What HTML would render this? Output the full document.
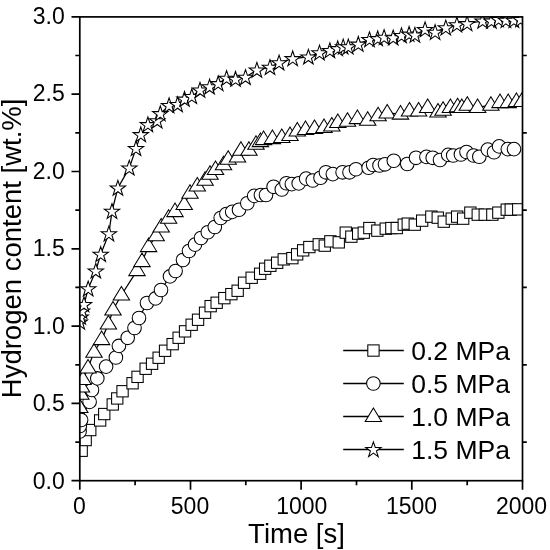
<!DOCTYPE html>
<html lang="en"><head><meta charset="utf-8"><title>Hydrogen content vs time</title>
<style>
html,body{margin:0;padding:0;background:#fff}
body{width:550px;height:550px;overflow:hidden}
svg{display:block}
text{font-family:"Liberation Sans",Arial,sans-serif;fill:#000}
.tk{font-size:23px}
.tt{font-size:27.5px}
text.lg{font-size:26.5px}
.m{fill:#fff;stroke:#000;stroke-width:1.05;stroke-linejoin:miter}
.ln{fill:none;stroke:#000;stroke-width:1.25}
.ll{fill:none;stroke:#000;stroke-width:1.5}
.ax{fill:none;stroke:#000;stroke-width:1.7}
</style></head><body>
<svg width="550" height="550" viewBox="0 0 550 550">
<rect width="550" height="550" fill="#fff"/>
<defs><clipPath id="cp"><rect x="79.8" y="16.9" width="442.7" height="463.8"/></clipPath></defs>

<g clip-path="url(#cp)">
<g class="ln"><polyline points="81.7,450.7 85.7,440 90.3,430 100.2,420.4 104.3,414 112.8,404.4 117.3,398.4 122.6,391.2 132.6,383.2 137.6,376.8 145.7,368.7 152.1,363.7 158.7,357.7 165.1,350.7 172.7,344.1 178.7,337.7 185.1,331.3 191.7,324.7 198.1,319.7 205.1,312.7 210.7,306.1 216.7,302.7 224.3,298.1 231.3,294.1 237.7,290.7 244.1,282.7 251.7,277.7 260.1,273.7 265.1,268.7 270.3,265.7 277.1,262.7 283.7,259.3 292.3,258.1 297.1,254.3 303.1,250.3 309.3,247.1 318.7,244.3 324.7,245.7 330.3,241.3 338.7,242.3 345.7,232.7 351.3,236.7 358.1,233.7 363.7,232.7 369.3,228.1 377.3,230.7 385.7,228.7 391.3,228.1 396.7,228.1 403.7,224.7 407.7,223.7 414.7,224.7 422.1,220.7 431.3,216.7 437.7,217.7 443.7,221.7 451.7,218.7 457.1,216.7 463.1,218.7 470.3,212.7 477.7,214.7 484.7,214.7 492.3,214.7 498.3,212.7 506.7,209.7 510.7,209.7 518.3,209.3"/></g>
<g class="m"><rect x="76" y="445.1" width="11.3" height="11.3"/><rect x="80" y="434.4" width="11.3" height="11.3"/><rect x="84.6" y="424.4" width="11.3" height="11.3"/><rect x="94.5" y="414.8" width="11.3" height="11.3"/><rect x="98.6" y="408.4" width="11.3" height="11.3"/><rect x="107.1" y="398.8" width="11.3" height="11.3"/><rect x="111.6" y="392.8" width="11.3" height="11.3"/><rect x="116.9" y="385.6" width="11.3" height="11.3"/><rect x="126.9" y="377.6" width="11.3" height="11.3"/><rect x="131.9" y="371.2" width="11.3" height="11.3"/><rect x="140" y="363.1" width="11.3" height="11.3"/><rect x="146.4" y="358.1" width="11.3" height="11.3"/><rect x="153" y="352.1" width="11.3" height="11.3"/><rect x="159.4" y="345.1" width="11.3" height="11.3"/><rect x="167" y="338.5" width="11.3" height="11.3"/><rect x="173" y="332.1" width="11.3" height="11.3"/><rect x="179.4" y="325.7" width="11.3" height="11.3"/><rect x="186" y="319.1" width="11.3" height="11.3"/><rect x="192.4" y="314.1" width="11.3" height="11.3"/><rect x="199.4" y="307.1" width="11.3" height="11.3"/><rect x="205" y="300.5" width="11.3" height="11.3"/><rect x="211" y="297.1" width="11.3" height="11.3"/><rect x="218.7" y="292.5" width="11.3" height="11.3"/><rect x="225.7" y="288.5" width="11.3" height="11.3"/><rect x="232" y="285.1" width="11.3" height="11.3"/><rect x="238.4" y="277.1" width="11.3" height="11.3"/><rect x="246" y="272.1" width="11.3" height="11.3"/><rect x="254.5" y="268.1" width="11.3" height="11.3"/><rect x="259.5" y="263.1" width="11.3" height="11.3"/><rect x="264.7" y="260.1" width="11.3" height="11.3"/><rect x="271.5" y="257.1" width="11.3" height="11.3"/><rect x="278.1" y="253.7" width="11.3" height="11.3"/><rect x="286.7" y="252.5" width="11.3" height="11.3"/><rect x="291.5" y="248.7" width="11.3" height="11.3"/><rect x="297.5" y="244.7" width="11.3" height="11.3"/><rect x="303.7" y="241.4" width="11.3" height="11.3"/><rect x="313.1" y="238.7" width="11.3" height="11.3"/><rect x="319.1" y="240" width="11.3" height="11.3"/><rect x="324.7" y="235.7" width="11.3" height="11.3"/><rect x="333.1" y="236.7" width="11.3" height="11.3"/><rect x="340.1" y="227" width="11.3" height="11.3"/><rect x="345.7" y="231" width="11.3" height="11.3"/><rect x="352.5" y="228" width="11.3" height="11.3"/><rect x="358.1" y="227" width="11.3" height="11.3"/><rect x="363.7" y="222.4" width="11.3" height="11.3"/><rect x="371.7" y="225" width="11.3" height="11.3"/><rect x="380.1" y="223" width="11.3" height="11.3"/><rect x="385.7" y="222.4" width="11.3" height="11.3"/><rect x="391.1" y="222.4" width="11.3" height="11.3"/><rect x="398.1" y="219" width="11.3" height="11.3"/><rect x="402.1" y="218" width="11.3" height="11.3"/><rect x="409.1" y="219" width="11.3" height="11.3"/><rect x="416.5" y="215" width="11.3" height="11.3"/><rect x="425.7" y="211" width="11.3" height="11.3"/><rect x="432.1" y="212" width="11.3" height="11.3"/><rect x="438.1" y="216" width="11.3" height="11.3"/><rect x="446.1" y="213" width="11.3" height="11.3"/><rect x="451.5" y="211" width="11.3" height="11.3"/><rect x="457.5" y="213" width="11.3" height="11.3"/><rect x="464.7" y="207" width="11.3" height="11.3"/><rect x="472.1" y="209" width="11.3" height="11.3"/><rect x="479.1" y="209" width="11.3" height="11.3"/><rect x="486.7" y="209" width="11.3" height="11.3"/><rect x="492.7" y="207" width="11.3" height="11.3"/><rect x="501.1" y="204" width="11.3" height="11.3"/><rect x="505.1" y="204" width="11.3" height="11.3"/><rect x="512.6" y="203.7" width="11.3" height="11.3"/></g>
<g class="ln"><polyline points="79.6,431.5 79.8,426 81.1,420 89.6,401.9 92,390 97.3,378.4 106.1,366.6 115.9,357.5 118.9,345.9 127.7,337.8 134.5,328 139,318 147,303 155.6,298.4 161,290 170,276.4 175.6,271 183,260 189,251 195,244.6 201,238 207.8,232.2 214.8,227 220.7,218 226.4,214 232.2,211.9 239,209.7 247.3,203.2 254.2,195.9 260.9,195 266,195 273.6,186.8 281.8,189.5 286.4,183.2 291.8,184.1 298.7,183.4 306.1,178.6 312.8,180.5 320.5,177.7 325.9,172.3 332.8,174.1 342.6,172.3 349.5,172.3 355.9,169.2 368.6,167.7 373.2,165 379.5,165.5 385,164.3 393.8,160.7 407.3,164 416,157.8 426.4,156.9 432.7,157.8 440,160 448.2,154.9 453.2,155.5 460.9,154.5 466.5,152 473.6,155.5 479.3,156.7 487.8,149.6 494,152.2 499.1,146.4 507.8,149.1 514,149.1"/></g>
<g class="m"><circle cx="79.6" cy="431.5" r="6.8"/><circle cx="79.8" cy="426" r="6.8"/><circle cx="81.1" cy="420" r="6.8"/><circle cx="89.6" cy="401.9" r="6.8"/><circle cx="92" cy="390" r="6.8"/><circle cx="97.3" cy="378.4" r="6.8"/><circle cx="106.1" cy="366.6" r="6.8"/><circle cx="115.9" cy="357.5" r="6.8"/><circle cx="118.9" cy="345.9" r="6.8"/><circle cx="127.7" cy="337.8" r="6.8"/><circle cx="134.5" cy="328" r="6.8"/><circle cx="139" cy="318" r="6.8"/><circle cx="147" cy="303" r="6.8"/><circle cx="155.6" cy="298.4" r="6.8"/><circle cx="161" cy="290" r="6.8"/><circle cx="170" cy="276.4" r="6.8"/><circle cx="175.6" cy="271" r="6.8"/><circle cx="183" cy="260" r="6.8"/><circle cx="189" cy="251" r="6.8"/><circle cx="195" cy="244.6" r="6.8"/><circle cx="201" cy="238" r="6.8"/><circle cx="207.8" cy="232.2" r="6.8"/><circle cx="214.8" cy="227" r="6.8"/><circle cx="220.7" cy="218" r="6.8"/><circle cx="226.4" cy="214" r="6.8"/><circle cx="232.2" cy="211.9" r="6.8"/><circle cx="239" cy="209.7" r="6.8"/><circle cx="247.3" cy="203.2" r="6.8"/><circle cx="254.2" cy="195.9" r="6.8"/><circle cx="260.9" cy="195" r="6.8"/><circle cx="266" cy="195" r="6.8"/><circle cx="273.6" cy="186.8" r="6.8"/><circle cx="281.8" cy="189.5" r="6.8"/><circle cx="286.4" cy="183.2" r="6.8"/><circle cx="291.8" cy="184.1" r="6.8"/><circle cx="298.7" cy="183.4" r="6.8"/><circle cx="306.1" cy="178.6" r="6.8"/><circle cx="312.8" cy="180.5" r="6.8"/><circle cx="320.5" cy="177.7" r="6.8"/><circle cx="325.9" cy="172.3" r="6.8"/><circle cx="332.8" cy="174.1" r="6.8"/><circle cx="342.6" cy="172.3" r="6.8"/><circle cx="349.5" cy="172.3" r="6.8"/><circle cx="355.9" cy="169.2" r="6.8"/><circle cx="368.6" cy="167.7" r="6.8"/><circle cx="373.2" cy="165" r="6.8"/><circle cx="379.5" cy="165.5" r="6.8"/><circle cx="385" cy="164.3" r="6.8"/><circle cx="393.8" cy="160.7" r="6.8"/><circle cx="407.3" cy="164" r="6.8"/><circle cx="416" cy="157.8" r="6.8"/><circle cx="426.4" cy="156.9" r="6.8"/><circle cx="432.7" cy="157.8" r="6.8"/><circle cx="440" cy="160" r="6.8"/><circle cx="448.2" cy="154.9" r="6.8"/><circle cx="453.2" cy="155.5" r="6.8"/><circle cx="460.9" cy="154.5" r="6.8"/><circle cx="466.5" cy="152" r="6.8"/><circle cx="473.6" cy="155.5" r="6.8"/><circle cx="479.3" cy="156.7" r="6.8"/><circle cx="487.8" cy="149.6" r="6.8"/><circle cx="494" cy="152.2" r="6.8"/><circle cx="499.1" cy="146.4" r="6.8"/><circle cx="507.8" cy="149.1" r="6.8"/><circle cx="514" cy="149.1" r="6.8"/></g>
<g class="ln"><polyline points="79.8,407.5 80.8,394.2 81.5,387 83,379.5 88,368 94,352.2 101.6,339.6 108.4,324 113,310 121.4,295 137,270.6 142,261.6 148.6,246.6 156.2,235.8 161.2,227 168.6,218.2 175,211.6 184.2,204.4 190,193.3 197.3,186 205.1,180.2 210,174.2 215.5,169.5 223.5,164.7 228.2,159.3 237.5,156.9 240.9,150.2 248.9,150.2 256,144.2 260.4,141.6 263.6,139.6 272.4,138.6 281.8,137.5 290,135.4 297.3,131 305.5,129.4 314.5,128.5 324,127.5 331.8,125.9 337.8,122.5 347.5,121.3 357.4,118.6 367.7,120.3 378.1,115.7 387.2,113 400.5,114.1 409.5,111 418.6,111 427.7,107.5 438,112 443.1,110.3 450.4,107.5 457.6,106.8 461.8,107.5 467.3,105.2 477.6,107.4 490.9,105.2 500,102.6 508.2,102.6 516.4,101.4 521.8,101.4"/></g>
<g class="m"><path d="M79.8 399L88 412.5H71.6Z"/><path d="M80.8 385.7L89 399.2H72.6Z"/><path d="M81.5 378.5L89.7 392H73.3Z"/><path d="M83 371L91.2 384.5H74.8Z"/><path d="M88 359.5L96.2 373H79.8Z"/><path d="M94 343.7L102.2 357.2H85.8Z"/><path d="M101.6 331.1L109.8 344.6H93.4Z"/><path d="M108.4 315.5L116.6 329H100.2Z"/><path d="M113 301.5L121.2 315H104.8Z"/><path d="M121.4 286.5L129.6 300H113.2Z"/><path d="M137 262.1L145.2 275.6H128.8Z"/><path d="M142 253.1L150.2 266.6H133.8Z"/><path d="M148.6 238.1L156.8 251.6H140.4Z"/><path d="M156.2 227.3L164.4 240.8H148Z"/><path d="M161.2 218.5L169.4 232H153Z"/><path d="M168.6 209.7L176.8 223.2H160.4Z"/><path d="M175 203.1L183.2 216.6H166.8Z"/><path d="M184.2 195.9L192.4 209.4H176Z"/><path d="M190 184.8L198.2 198.3H181.8Z"/><path d="M197.3 177.5L205.5 191H189.1Z"/><path d="M205.1 171.7L213.3 185.2H196.9Z"/><path d="M210 165.7L218.2 179.2H201.8Z"/><path d="M215.5 161L223.7 174.5H207.3Z"/><path d="M223.5 156.2L231.7 169.7H215.3Z"/><path d="M228.2 150.8L236.4 164.3H220Z"/><path d="M237.5 148.4L245.7 161.9H229.3Z"/><path d="M240.9 141.7L249.1 155.2H232.7Z"/><path d="M248.9 141.7L257.1 155.2H240.7Z"/><path d="M256 135.7L264.2 149.2H247.8Z"/><path d="M260.4 133.1L268.6 146.6H252.2Z"/><path d="M263.6 131.1L271.8 144.6H255.4Z"/><path d="M272.4 130.1L280.6 143.6H264.2Z"/><path d="M281.8 129L290 142.5H273.6Z"/><path d="M290 126.9L298.2 140.4H281.8Z"/><path d="M297.3 122.5L305.5 136H289.1Z"/><path d="M305.5 120.9L313.7 134.4H297.3Z"/><path d="M314.5 120L322.7 133.5H306.3Z"/><path d="M324 119L332.2 132.5H315.8Z"/><path d="M331.8 117.4L340 130.9H323.6Z"/><path d="M337.8 114L346 127.5H329.6Z"/><path d="M347.5 112.8L355.7 126.3H339.3Z"/><path d="M357.4 110.1L365.6 123.6H349.2Z"/><path d="M367.7 111.8L375.9 125.3H359.5Z"/><path d="M378.1 107.2L386.3 120.7H369.9Z"/><path d="M387.2 104.5L395.4 118H379Z"/><path d="M400.5 105.6L408.7 119.1H392.3Z"/><path d="M409.5 102.5L417.7 116H401.3Z"/><path d="M418.6 102.5L426.8 116H410.4Z"/><path d="M427.7 99L435.9 112.5H419.5Z"/><path d="M438 103.5L446.2 117H429.8Z"/><path d="M443.1 101.8L451.3 115.3H434.9Z"/><path d="M450.4 99L458.6 112.5H442.2Z"/><path d="M457.6 98.3L465.8 111.8H449.4Z"/><path d="M461.8 99L470 112.5H453.6Z"/><path d="M467.3 96.7L475.5 110.2H459.1Z"/><path d="M477.6 98.9L485.8 112.4H469.4Z"/><path d="M490.9 96.7L499.1 110.2H482.7Z"/><path d="M500 94.1L508.2 107.6H491.8Z"/><path d="M508.2 94.1L516.4 107.6H500Z"/><path d="M516.4 92.9L524.6 106.4H508.2Z"/><path d="M521.8 92.9L530 106.4H513.6Z"/></g>
<g class="ln"><polyline points="79.8,322 80.7,317 82,311 84,304.5 88.2,288.7 95.8,270.9 100.7,254.2 108.9,233.7 112,211.2 117.9,188 129.3,167.9 136,148.4 140.8,134.6 147.9,124.6 157.2,120.8 160.3,113.6 169.1,105.5 177.6,104.5 184.5,99.1 191.8,96.4 200,90 209.6,86.8 218.2,83.6 226.6,78.2 235.5,79.1 245.5,77.3 256.9,70 270,67.3 279.1,62.7 292.7,58.6 308.4,56.9 319.5,52.8 329.9,50.5 337.7,48.6 343.2,46.8 348.3,46.8 358.3,44.1 369.5,39.5 377.7,38.6 384.1,37.2 393.2,37.7 401.5,35.5 409.1,34.1 414.9,35 425.1,29.5 435.1,32.3 445.8,27.7 456.9,24.8 467.1,23.6 482.6,21 491.4,21 498.6,19.5 505.9,20.3 513.9,20.3 520.5,19.5"/></g>
<g class="m"><polygon points="79.8,314.4 81.7,320 87.5,320 82.8,323.5 84.6,329.1 79.8,325.6 75,329.1 76.8,323.5 72.1,320 77.9,320"/><polygon points="80.7,309.4 82.6,315 88.4,315 83.7,318.5 85.5,324.1 80.7,320.6 75.9,324.1 77.7,318.5 73,315 78.8,315"/><polygon points="82,303.4 83.9,309 89.7,309 85,312.5 86.8,318.1 82,314.6 77.2,318.1 79,312.5 74.3,309 80.1,309"/><polygon points="84,296.9 85.9,302.5 91.7,302.5 87,306 88.8,311.6 84,308.1 79.2,311.6 81,306 76.3,302.5 82.1,302.5"/><polygon points="88.2,281.1 90.1,286.7 95.9,286.7 91.2,290.2 93,295.8 88.2,292.3 83.4,295.8 85.2,290.2 80.5,286.7 86.3,286.7"/><polygon points="95.8,263.3 97.7,268.9 103.5,268.9 98.8,272.4 100.6,278 95.8,274.5 91,278 92.8,272.4 88.1,268.9 93.9,268.9"/><polygon points="100.7,246.6 102.6,252.2 108.4,252.2 103.7,255.7 105.5,261.3 100.7,257.8 95.9,261.3 97.7,255.7 93,252.2 98.8,252.2"/><polygon points="108.9,226.1 110.8,231.7 116.6,231.7 111.9,235.2 113.7,240.8 108.9,237.3 104.1,240.8 105.9,235.2 101.2,231.7 107,231.7"/><polygon points="112,203.6 113.9,209.2 119.7,209.2 115,212.7 116.8,218.3 112,214.8 107.2,218.3 109,212.7 104.3,209.2 110.1,209.2"/><polygon points="117.9,180.4 119.8,186 125.6,186 120.9,189.5 122.7,195.1 117.9,191.7 113.1,195.1 114.9,189.5 110.2,186 116,186"/><polygon points="129.3,160.3 131.2,165.9 137,165.9 132.3,169.4 134.1,175 129.3,171.6 124.5,175 126.3,169.4 121.6,165.9 127.4,165.9"/><polygon points="136,140.8 137.9,146.4 143.7,146.4 139,149.9 140.8,155.5 136,152.1 131.2,155.5 133,149.9 128.3,146.4 134.1,146.4"/><polygon points="140.8,127 142.7,132.6 148.5,132.6 143.8,136.1 145.6,141.7 140.8,138.2 136,141.7 137.8,136.1 133.1,132.6 138.9,132.6"/><polygon points="147.9,117 149.8,122.6 155.6,122.6 150.9,126.1 152.7,131.7 147.9,128.2 143.1,131.7 144.9,126.1 140.2,122.6 146,122.6"/><polygon points="157.2,113.2 159.1,118.8 164.9,118.8 160.2,122.3 162,127.9 157.2,124.5 152.4,127.9 154.2,122.3 149.5,118.8 155.3,118.8"/><polygon points="160.3,106 162.2,111.6 168,111.6 163.3,115.1 165.1,120.7 160.3,117.2 155.5,120.7 157.3,115.1 152.6,111.6 158.4,111.6"/><polygon points="169.1,97.9 171,103.5 176.8,103.5 172.1,107 173.9,112.6 169.1,109.2 164.3,112.6 166.1,107 161.4,103.5 167.2,103.5"/><polygon points="177.6,96.9 179.5,102.5 185.3,102.5 180.6,106 182.4,111.6 177.6,108.2 172.8,111.6 174.6,106 169.9,102.5 175.7,102.5"/><polygon points="184.5,91.5 186.4,97.1 192.2,97.1 187.5,100.6 189.3,106.2 184.5,102.8 179.7,106.2 181.5,100.6 176.8,97.1 182.6,97.1"/><polygon points="191.8,88.8 193.7,94.4 199.5,94.4 194.8,97.9 196.6,103.5 191.8,100.1 187,103.5 188.8,97.9 184.1,94.4 189.9,94.4"/><polygon points="200,82.4 201.9,88 207.7,88 203,91.5 204.8,97.1 200,93.7 195.2,97.1 197,91.5 192.3,88 198.1,88"/><polygon points="209.6,79.2 211.5,84.8 217.3,84.8 212.6,88.3 214.4,93.9 209.6,90.5 204.8,93.9 206.6,88.3 201.9,84.8 207.7,84.8"/><polygon points="218.2,76 220.1,81.6 225.9,81.6 221.2,85.1 223,90.7 218.2,87.2 213.4,90.7 215.2,85.1 210.5,81.6 216.3,81.6"/><polygon points="226.6,70.6 228.5,76.2 234.3,76.2 229.6,79.7 231.4,85.3 226.6,81.9 221.8,85.3 223.6,79.7 218.9,76.2 224.7,76.2"/><polygon points="235.5,71.5 237.4,77.1 243.2,77.1 238.5,80.6 240.3,86.2 235.5,82.8 230.7,86.2 232.5,80.6 227.8,77.1 233.6,77.1"/><polygon points="245.5,69.7 247.4,75.3 253.2,75.3 248.5,78.8 250.3,84.4 245.5,81 240.7,84.4 242.5,78.8 237.8,75.3 243.6,75.3"/><polygon points="256.9,62.4 258.8,68 264.6,68 259.9,71.5 261.7,77.1 256.9,73.7 252.1,77.1 253.9,71.5 249.2,68 255,68"/><polygon points="270,59.7 271.9,65.3 277.7,65.3 273,68.8 274.8,74.4 270,71 265.2,74.4 267,68.8 262.3,65.3 268.1,65.3"/><polygon points="279.1,55.1 281,60.7 286.8,60.7 282.1,64.2 283.9,69.8 279.1,66.4 274.3,69.8 276.1,64.2 271.4,60.7 277.2,60.7"/><polygon points="292.7,51 294.6,56.6 300.4,56.6 295.7,60.1 297.5,65.7 292.7,62.2 287.9,65.7 289.7,60.1 285,56.6 290.8,56.6"/><polygon points="308.4,49.3 310.3,54.9 316.1,54.9 311.4,58.4 313.2,64 308.4,60.5 303.6,64 305.4,58.4 300.7,54.9 306.5,54.9"/><polygon points="319.5,45.2 321.4,50.8 327.2,50.8 322.5,54.3 324.3,59.9 319.5,56.4 314.7,59.9 316.5,54.3 311.8,50.8 317.6,50.8"/><polygon points="329.9,42.9 331.8,48.5 337.6,48.5 332.9,52 334.7,57.6 329.9,54.1 325.1,57.6 326.9,52 322.2,48.5 328,48.5"/><polygon points="337.7,41 339.6,46.6 345.4,46.6 340.7,50.1 342.5,55.7 337.7,52.2 332.9,55.7 334.7,50.1 330,46.6 335.8,46.6"/><polygon points="343.2,39.2 345.1,44.8 350.9,44.8 346.2,48.3 348,53.9 343.2,50.4 338.4,53.9 340.2,48.3 335.5,44.8 341.3,44.8"/><polygon points="348.3,39.2 350.2,44.8 356,44.8 351.3,48.3 353.1,53.9 348.3,50.4 343.5,53.9 345.3,48.3 340.6,44.8 346.4,44.8"/><polygon points="358.3,36.5 360.2,42.1 366,42.1 361.3,45.6 363.1,51.2 358.3,47.8 353.5,51.2 355.3,45.6 350.6,42.1 356.4,42.1"/><polygon points="369.5,31.9 371.4,37.5 377.2,37.5 372.5,41 374.3,46.6 369.5,43.1 364.7,46.6 366.5,41 361.8,37.5 367.6,37.5"/><polygon points="377.7,31 379.6,36.6 385.4,36.6 380.7,40.1 382.5,45.7 377.7,42.2 372.9,45.7 374.7,40.1 370,36.6 375.8,36.6"/><polygon points="384.1,29.6 386,35.2 391.8,35.2 387.1,38.7 388.9,44.3 384.1,40.9 379.3,44.3 381.1,38.7 376.4,35.2 382.2,35.2"/><polygon points="393.2,30.1 395.1,35.7 400.9,35.7 396.2,39.2 398,44.8 393.2,41.4 388.4,44.8 390.2,39.2 385.5,35.7 391.3,35.7"/><polygon points="401.5,27.9 403.4,33.5 409.2,33.5 404.5,37 406.3,42.6 401.5,39.1 396.7,42.6 398.5,37 393.8,33.5 399.6,33.5"/><polygon points="409.1,26.5 411,32.1 416.8,32.1 412.1,35.6 413.9,41.2 409.1,37.8 404.3,41.2 406.1,35.6 401.4,32.1 407.2,32.1"/><polygon points="414.9,27.4 416.8,33 422.6,33 417.9,36.5 419.7,42.1 414.9,38.6 410.1,42.1 411.9,36.5 407.2,33 413,33"/><polygon points="425.1,21.9 427,27.5 432.8,27.5 428.1,31 429.9,36.6 425.1,33.1 420.3,36.6 422.1,31 417.4,27.5 423.2,27.5"/><polygon points="435.1,24.7 437,30.3 442.8,30.3 438.1,33.8 439.9,39.4 435.1,35.9 430.3,39.4 432.1,33.8 427.4,30.3 433.2,30.3"/><polygon points="445.8,20.1 447.7,25.7 453.5,25.7 448.8,29.2 450.6,34.8 445.8,31.3 441,34.8 442.8,29.2 438.1,25.7 443.9,25.7"/><polygon points="456.9,17.2 458.8,22.8 464.6,22.8 459.9,26.3 461.7,31.9 456.9,28.4 452.1,31.9 453.9,26.3 449.2,22.8 455,22.8"/><polygon points="467.1,16 469,21.6 474.8,21.6 470.1,25.1 471.9,30.7 467.1,27.2 462.3,30.7 464.1,25.1 459.4,21.6 465.2,21.6"/><polygon points="482.6,13.4 484.5,19 490.3,19 485.6,22.5 487.4,28.1 482.6,24.6 477.8,28.1 479.6,22.5 474.9,19 480.7,19"/><polygon points="491.4,13.4 493.3,19 499.1,19 494.4,22.5 496.2,28.1 491.4,24.6 486.6,28.1 488.4,22.5 483.7,19 489.5,19"/><polygon points="498.6,11.9 500.5,17.5 506.3,17.5 501.6,21 503.4,26.6 498.6,23.1 493.8,26.6 495.6,21 490.9,17.5 496.7,17.5"/><polygon points="505.9,12.7 507.8,18.3 513.6,18.3 508.9,21.8 510.7,27.4 505.9,23.9 501.1,27.4 502.9,21.8 498.2,18.3 504,18.3"/><polygon points="513.9,12.7 515.8,18.3 521.6,18.3 516.9,21.8 518.7,27.4 513.9,23.9 509.1,27.4 510.9,21.8 506.2,18.3 512,18.3"/><polygon points="520.5,11.9 522.4,17.5 528.2,17.5 523.5,21 525.3,26.6 520.5,23.1 515.7,26.6 517.5,21 512.8,17.5 518.6,17.5"/></g>
</g>
<rect class="ax" x="79.8" y="16.9" width="442.7" height="463.8"/>
<path class="ax" d="M79.8 480.7h-8.3M79.8 442.1h-4.5M522.5 442.1h4.3M79.8 403.4h-8.3M79.8 364.8h-4.5M522.5 364.8h4.3M79.8 326.1h-8.3M79.8 287.4h-4.5M522.5 287.4h4.3M79.8 248.8h-8.3M79.8 210.1h-4.5M522.5 210.1h4.3M79.8 171.5h-8.3M79.8 132.9h-4.5M522.5 132.9h4.3M79.8 94.2h-8.3M79.8 55.5h-4.5M522.5 55.5h4.3M79.8 16.9h-8.3M79.8 480.7v9M135.1 480.7v4.5M190.5 480.7v9M245.8 480.7v4.5M301.1 480.7v9M356.5 480.7v4.5M411.8 480.7v9M467.2 480.7v4.5M522.5 480.7v9"/>
<text class="tk" x="64.7" y="488.6" text-anchor="end">0.0</text>
<text class="tk" x="64.7" y="411.1" text-anchor="end">0.5</text>
<text class="tk" x="64.7" y="333.7" text-anchor="end">1.0</text>
<text class="tk" x="64.7" y="256.2" text-anchor="end">1.5</text>
<text class="tk" x="64.7" y="178.8" text-anchor="end">2.0</text>
<text class="tk" x="64.7" y="101.3" text-anchor="end">2.5</text>
<text class="tk" x="64.7" y="23.9" text-anchor="end">3.0</text>
<text class="tk" x="79.3" y="513.7" text-anchor="middle">0</text>
<text class="tk" x="190" y="513.7" text-anchor="middle">500</text>
<text class="tk" x="301.8" y="513.7" text-anchor="middle">1000</text>
<text class="tk" x="411.6" y="513.7" text-anchor="middle">1500</text>
<text class="tk" x="521.5" y="513.7" text-anchor="middle">2000</text>
<text class="tt" x="296.5" y="542.5" text-anchor="middle">Time [s]</text>
<text class="tt" transform="translate(21.2 248.4) rotate(-90)" text-anchor="middle">Hydrogen content [wt.%]</text>
<path class="ll" d="M343.2 350.5H403.8"/>
<g class="m"><rect x="367.8" y="344.9" width="11.3" height="11.3"/></g>
<text class="lg" x="411.2" y="360.1">0.2 MPa</text>
<path class="ll" d="M343.2 383.5H403.8"/>
<g class="m"><circle cx="373.4" cy="383.5" r="6.8"/></g>
<text class="lg" x="411.2" y="393.1">0.5 MPa</text>
<path class="ll" d="M343.2 416.5H403.8"/>
<g class="m"><path d="M373.4 408L381.6 421.5H365.2Z"/></g>
<text class="lg" x="411.2" y="426.1">1.0 MPa</text>
<path class="ll" d="M343.2 449.5H403.8"/>
<g class="m"><polygon points="373.4,441.9 375.3,447.5 381.1,447.5 376.4,451 378.2,456.6 373.4,453.1 368.6,456.6 370.4,451 365.7,447.5 371.5,447.5"/></g>
<text class="lg" x="411.2" y="459.1">1.5 MPa</text>
</svg></body></html>
